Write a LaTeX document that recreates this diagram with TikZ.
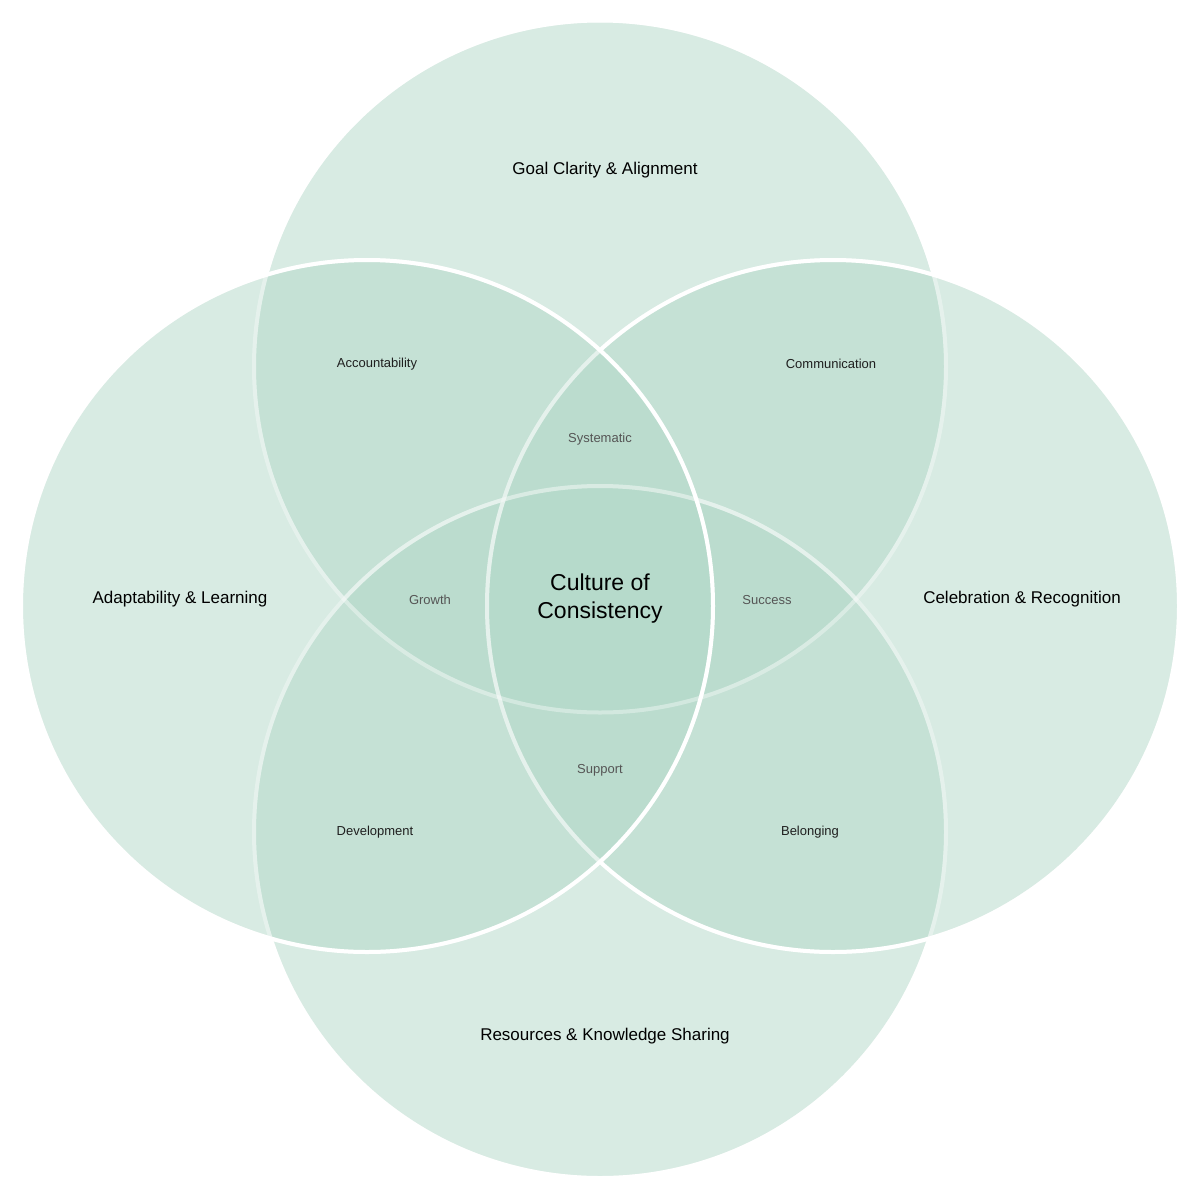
\documentclass[tikz,border=0pt]{standalone}
\usepackage{fontspec}
\setmainfont{Liberation Sans}
\usepackage{tikz}
\definecolor{vennfill}{HTML}{B3D9C9}
\definecolor{midgrey}{HTML}{555555}

\begin{document}
\begin{tikzpicture}[x=1pt,y=-1pt,
        venn/.style={shape=circle,minimum size=692pt,inner sep=0pt,fill=vennfill,fill opacity=0.5,draw=white,line width=4pt},
        rim/.style={draw=white,draw opacity=0.35,line width=4pt},
        outer/.style={font=\fontsize{17}{20}\selectfont,text=black},
        pair/.style={font=\fontsize{13}{16}\selectfont,text=black!88},
        triple/.style={font=\fontsize{13}{16}\selectfont,text=midgrey},
        core/.style={font=\fontsize{23}{28}\selectfont,align=center,text=black}]
        \useasboundingbox (0,0) rectangle (1200,1200);
        \fill[white] (0,0) rectangle (1200,1200);
        \node[venn] (goal) at (600,366.5) {};
        \node[venn] (resources) at (600,832) {};
        \node[venn] (celebration) at (833,606) {};
        \node[venn] (adapt) at (367,606) {};
        \foreach \c in {goal,resources,celebration,adapt}
          \draw[rim] (\c.center) circle[radius=346pt];
        \node[outer] (goallabel) at (605,170) {Goal Clarity \& Alignment};
        \node[outer] (adaptlabel) at (180,599) {Adaptability \& Learning};
        \node[outer] (celebrationlabel) at (1022,599) {Celebration \& Recognition};
        \node[outer] (resourceslabel) at (605,1036) {Resources \& Knowledge Sharing};
        \node[pair] (accountability) at (377,364) {Accountability};
        \node[pair] (communication) at (831,364) {Communication};
        \node[pair] (development) at (375,832) {Development};
        \node[pair] (belonging) at (810,832) {Belonging};
        \node[triple] (systematic) at (600,439) {Systematic};
        \node[triple] (growth) at (430,600) {Growth};
        \node[triple] (success) at (767,600) {Success};
        \node[triple] (support) at (600,770) {Support};
        \node[core] (culture) at (600,599) {Culture of\\Consistency};
      \end{tikzpicture}
\end{document}
